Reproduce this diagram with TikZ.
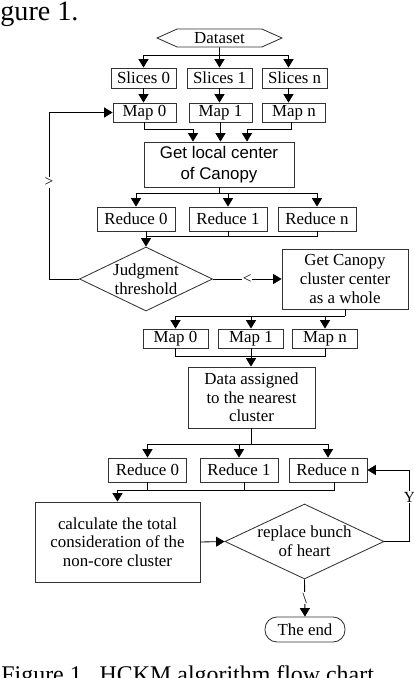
\documentclass[tikz,border=0pt]{standalone}
\usepackage{fontspec}
\setmainfont{Liberation Serif}
\setsansfont{Liberation Sans}
\usetikzlibrary{arrows.meta,shapes.geometric,shapes.symbols}

\begin{document}
\begin{tikzpicture}[x=0.025cm,y=-0.025cm,line width=0.6pt,
  box/.style={draw=black!80,inner sep=1pt,align=center,font=\fontsize{12}{13.3}\selectfont},
  slicebox/.style={box,minimum width=1.625cm,minimum height=0.5cm},
  mapbox/.style={box,minimum width=1.575cm,minimum height=0.475cm},
  redbox/.style={box,minimum width=1.95cm,minimum height=0.6cm},
  decision/.style={diamond,draw=black!80,inner sep=0pt},
  plain/.style={align=center,inner sep=0pt,font=\fontsize{12}{13.3}\selectfont},
  arr/.style={-{Triangle[width=0.25cm,length=0.21cm]}},
  lbl/.style={fill=white,inner sep=0.5pt,font=\fontsize{11}{12}\selectfont}]

\useasboundingbox (0,0) rectangle (414,678);

\node[anchor=base west,inner sep=0pt,font=\fontsize{20}{22}\selectfont] (figtop) at (-23.5,20) {Figure 1.};

\node[signal,signal to=east and west,signal pointer angle=48,draw=black!80,minimum width=3.125cm,minimum height=0.45cm,inner sep=0pt,font=\fontsize{12}{13.3}\selectfont] (dataset) at (219.5,38) {Dataset};

\node[slicebox] (s0) at (143.5,78) {Slices 0};
\node[slicebox] (s1) at (219.5,78) {Slices 1};
\node[slicebox] (sn) at (294.5,78) {Slices n};

\node[mapbox] (m0) at (144.5,112.5) {Map 0};
\node[mapbox] (m1) at (220.5,112.5) {Map 1};
\node[mapbox] (mn) at (294,112.5) {Map n};

\node[box,minimum width=3.75cm,minimum height=1.125cm,font=\sffamily\fontsize{12}{15}\selectfont] (local) at (219,164.5) {Get local center\\of Canopy};

\node[redbox] (r0) at (136,219) {Reduce 0};
\node[redbox] (r1) at (228,219) {Reduce 1};
\node[redbox] (rn) at (317,219) {Reduce n};

\node[decision,minimum width=3.325cm,minimum height=1.6cm] (judge) at (146,279) {};
\node[plain] (judgetext) at (judge) {Judgment\\threshold};

\node[box,minimum width=3.15cm,minimum height=1.5cm] (whole) at (345,279) {Get Canopy\\cluster center\\as a whole};

\node[mapbox,minimum width=1.625cm] (mm0) at (175.5,338.5) {Map 0};
\node[mapbox,minimum width=1.625cm] (mm1) at (251,338.5) {Map 1};
\node[mapbox,minimum width=1.625cm] (mmn) at (325,338.5) {Map n};

\node[box,minimum width=3.175cm,minimum height=1.525cm] (data) at (251.5,397.5) {Data assigned\\to the nearest\\cluster};

\node[redbox] (rr0) at (147.5,470) {Reduce 0};
\node[redbox] (rr1) at (239,470) {Reduce 1};
\node[redbox] (rrn) at (328,470) {Reduce n};

\node[box,minimum width=4.125cm,minimum height=2cm] (total) at (117.5,542) {calculate the total\\consideration of the\\non-core cluster};

\node[decision,minimum width=3.975cm,minimum height=1.875cm] (replace) at (304.5,541.5) {};
\node[plain] (replacetext) at (replace) {replace bunch\\of heart};

\node[box,rounded corners=0.3cm,minimum width=2cm,minimum height=0.625cm] (theend) at (305,629.5) {The end};

\node[anchor=base west,inner sep=0pt,font=\fontsize{17}{20}\selectfont] (caption) at (1,682) {Figure 1.\ \ HCKM algorithm flow chart};

% dataset to slices to maps
\coordinate (fork1) at (219.5,55);
\draw (dataset) -- (fork1);
\draw[arr] (fork1) -| (s0.north);
\draw[arr] (fork1) -- (s1.north);
\draw[arr] (fork1) -| ([xshift=-0.15cm]sn.north);
\draw[arr] (s0.south) -- (s0.south |- m0.north);
\draw[arr] (s1.south) -- (s1.south |- m1.north);
\draw[arr] ([xshift=-0.15cm]sn.south) -- ([xshift=-0.15cm]sn.south |- mn.north);

\draw[arr] (m0.south) -- ++(0,7) -| ([xshift=-0.65cm]local.north);
\draw[arr] (m1.south) -- (m1.south |- local.north);
\draw[arr] ([xshift=-0.075cm]mn.south) -- ++(0,7) -| ([xshift=0.7cm]local.north);

\coordinate (fork2) at (219,193);
\draw (local) -- (fork2);
\draw[arr] (fork2) -| (r0.north);
\draw[arr] (fork2) -| (r1.north);
\draw[arr] (fork2) -| (rn.north);

\draw (r0.south -| judge.north) -- ++(0,5);
\draw (r1.south) -- ++(0,5);
\draw[arr] (rn.south) -- ++(0,5) -| (judge.north);

% loop back and go on
\draw[arr] (judge.west) -- ++(-30,0) |- node[pos=0.29,lbl] (ge) {>} (m0.west);
\draw[arr] (judge.east) -- node[lbl] (lt) {<} (whole.west);

\coordinate (fork3) at (345,316);
\draw (whole) -- (fork3);
\draw[arr] (fork3) -| (mm0.north);
\draw[arr] (fork3) -| (mm1.north);
\draw[arr] (fork3) -| (mmn.north);

\draw (mm0.south) -- ++(0,8) -| (mmn.south);
\draw[arr] (mm1.south) -- (mm1.south |- data.north);

\coordinate (fork4) at (251.5,444);
\draw (data) -- (fork4);
\draw[arr] (fork4) -| (rr0.north);
\draw[arr] (fork4) -| (rr1.north);
\draw[arr] (fork4) -| (rrn.north);

\draw (rr0.south) -- ++(0,8);
\draw ([xshift=0.125cm]rr1.south) -- ++(0,8);
\draw[arr] ([xshift=0.15cm]rrn.south) -- ++(0,8) -| (total.north);

\draw[arr] (total.east) -- (replace.west);
\draw[arr] (replace.east) -- ++(25,0) |- node[pos=0.31,lbl] (yes) {Y} (rrn.east);
\draw[arr] (replace.south) -- node[lbl] (no) {\textbackslash} (theend.north);
\end{tikzpicture}
\end{document}
